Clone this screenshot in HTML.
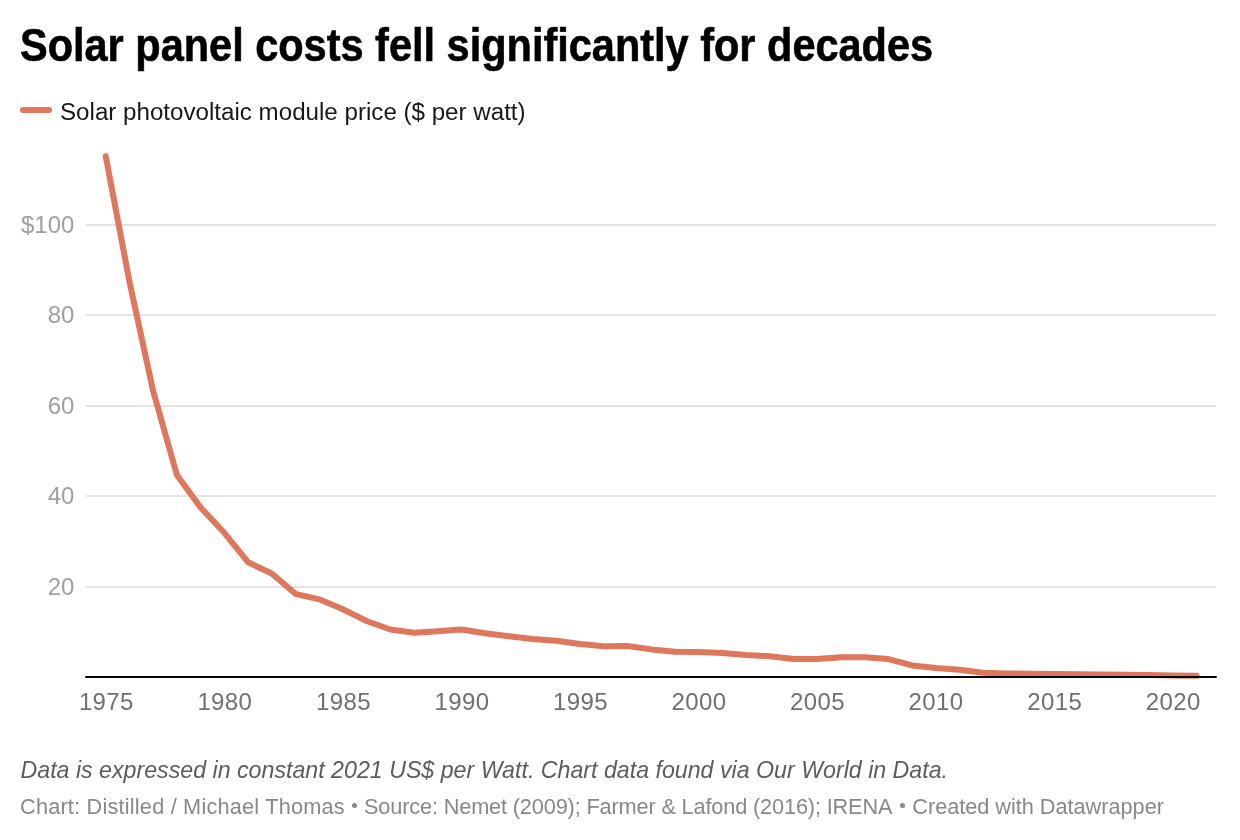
<!DOCTYPE html>
<html><head><meta charset="utf-8"><title>Solar panel costs</title>
<style>
html,body{margin:0;padding:0;background:#fff;}
body{width:1240px;height:840px;position:relative;overflow:hidden;font-family:"Liberation Sans",sans-serif;}
.abs{position:absolute;white-space:nowrap;}
#title{left:20px;top:18.5px;font-size:46px;font-weight:bold;color:#000;-webkit-text-stroke:0.6px #000;line-height:52px;transform-origin:0 0;transform:scaleX(0.902);}
#sw{left:20px;top:107px;width:32px;height:6px;border-radius:3px;background:#df775c;}
#leg{left:60px;top:97px;font-size:24.15px;line-height:30px;color:#181818;}
.gl{position:absolute;left:86px;width:1130px;height:2px;background:#e4e4e4;}
.yl{position:absolute;left:0;width:74.4px;text-align:right;font-size:24px;line-height:30px;color:#a0a0a0;white-space:nowrap;}
.xl{position:absolute;top:687px;width:80px;letter-spacing:0.4px;text-indent:0.4px;text-align:center;font-size:24px;line-height:30px;color:#707070;white-space:nowrap;}
#base{left:85px;top:676px;width:1132px;height:2px;background:#000;border-radius:1px;}
#notes{left:20.5px;top:755px;font-size:23.2px;line-height:30px;font-style:italic;color:#5c5c5c;}
.ft{top:791.7px;font-size:21.72px;line-height:30px;color:#888;}
#f1{left:20px;letter-spacing:0.2px;}
#f2{left:364px;letter-spacing:-0.15px;}
#f3{left:912.3px;letter-spacing:-0.03px;}
.dot{top:803.2px;width:5px;height:5px;border-radius:50%;background:#888;}
svg{position:absolute;left:0;top:0;}
#w{position:absolute;left:0;top:0;width:1240px;height:840px;will-change:transform;}
</style></head><body><div id="w">
<div id="title" class="abs">Solar panel costs fell significantly for decades</div>
<div id="sw" class="abs"></div>
<div id="leg" class="abs">Solar photovoltaic module price ($ per watt)</div>
<div class="gl" style="top:224px"></div><div class="gl" style="top:314px"></div><div class="gl" style="top:405px"></div><div class="gl" style="top:495px"></div><div class="gl" style="top:586px"></div>
<div class="yl" style="top:210px">$100</div><div class="yl" style="top:300px">80</div><div class="yl" style="top:391px">60</div><div class="yl" style="top:481px">40</div><div class="yl" style="top:572px">20</div>
<svg width="1240" height="840" viewBox="0 0 1240 840"><polyline fill="none" stroke="#df775c" stroke-width="6" stroke-linejoin="round" stroke-linecap="round" points="105.7,156.1 129.4,281.5 153.1,390.9 176.9,475.0 200.6,507.5 224.3,532.8 248.0,562.2 271.7,573.5 295.4,593.8 319.2,599.3 342.9,609.2 366.6,621.0 390.3,629.5 414.0,632.7 437.7,631.3 461.5,629.5 485.2,633.2 508.9,636.3 532.6,639.0 556.3,640.8 580.0,644.0 603.8,646.3 627.5,646.0 651.2,649.4 674.9,651.7 698.6,652.1 722.4,653.0 746.1,655.1 769.8,656.2 793.5,658.9 817.2,658.9 840.9,657.3 864.7,657.2 888.4,659.1 912.1,665.4 935.8,668.1 959.5,669.8 983.2,672.7 1007.0,673.5 1030.7,673.7 1054.4,673.9 1078.1,674.2 1101.8,674.5 1125.5,674.8 1149.3,675.1 1173.0,675.4 1196.7,675.8"/></svg>
<div id="base" class="abs"></div>
<div class="xl" style="left:66.2px">1975</div><div class="xl" style="left:184.7px">1980</div><div class="xl" style="left:303.3px">1985</div><div class="xl" style="left:421.8px">1990</div><div class="xl" style="left:540.3px">1995</div><div class="xl" style="left:658.9px">2000</div><div class="xl" style="left:777.4px">2005</div><div class="xl" style="left:895.9px">2010</div><div class="xl" style="left:1014.5px">2015</div><div class="xl" style="left:1133.0px">2020</div>
<div id="notes" class="abs">Data is expressed in constant 2021 US$ per Watt. Chart data found via Our World in Data.</div>
<div class="abs ft" id="f1">Chart: Distilled / Michael Thomas</div>
<div class="abs dot" style="left:352px"></div>
<div class="abs ft" id="f2">Source: Nemet (2009); Farmer &amp; Lafond (2016); IRENA</div>
<div class="abs dot" style="left:900px"></div>
<div class="abs ft" id="f3">Created with Datawrapper</div>
</div></body></html>
